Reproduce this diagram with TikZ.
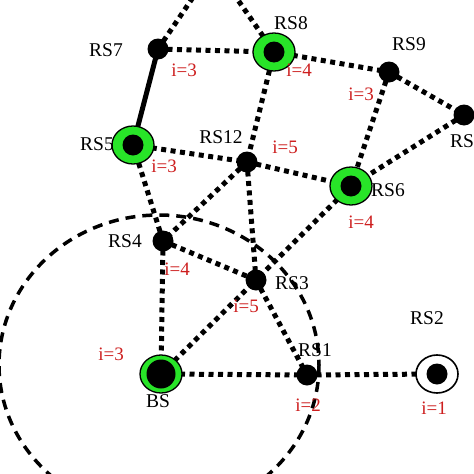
\documentclass[tikz,border=0pt]{standalone}
\usepackage{fontspec}
\setmainfont{Liberation Serif}
\usetikzlibrary{shapes.geometric}
\pgfdeclarelayer{bg}
\pgfsetlayers{bg,main}
\definecolor{ringgreen}{RGB}{40,228,40}
\definecolor{lblred}{RGB}{205,30,30}
\tikzset{
  relay/.style={circle,fill=black,inner sep=0pt,minimum size=21pt},
  bigrelay/.style={circle,fill=black,inner sep=0pt,minimum size=29pt},
  ring/.style={ellipse,fill=ringgreen,draw=black,line width=1.3pt,minimum width=42pt,minimum height=38pt,inner sep=0pt},
  wring/.style={ellipse,fill=white,draw=black,line width=1.6pt,minimum width=42pt,minimum height=38pt,inner sep=0pt},
  link/.style={line width=5pt,dash pattern=on 5pt off 4.5pt},
  solidlink/.style={line width=5pt},
  rsname/.style={font=\fontsize{19.5}{20}\selectfont,inner sep=0pt},
  hop/.style={font=\fontsize{19}{20}\selectfont,text=lblred,inner sep=0pt},
  coverage/.style={line width=3.5pt,dash pattern=on 10pt off 7pt},
}
\begin{document}
\begin{tikzpicture}[x=1pt,y=-1pt]
\useasboundingbox (0,0) rectangle (474,474);
\clip (0,0) rectangle (474,474);

% station nodes
\node[relay] (rs7) at (158,49) {};
\node[ring] (rs8r) at (274,52) {};
\node[relay] (rs8) at (274,52) {};
\node[relay] (rs9) at (389,72) {};
\node[relay] (rs10) at (464,115) {};
\node[ring] (rs5r) at (133,145) {};
\node[relay] (rs5) at (133,145) {};
\node[relay] (rs12) at (247,162) {};
\node[ring] (rs6r) at (351,186) {};
\node[relay] (rs6) at (351,186) {};
\node[relay] (rs4) at (163,241) {};
\node[relay] (rs3) at (256,280) {};
\node[ring] (bsr) at (161,374) {};
\node[bigrelay] (bs) at (161,374) {};
\node[relay] (rs1) at (307,375) {};
\node[wring] (rs2r) at (437,374) {};
\node[relay] (rs2) at (437,374) {};

\coordinate (up7) at (198,-10);
\coordinate (up8) at (231,-10);

\begin{pgfonlayer}{bg}
  \draw[coverage] (159,365) ellipse [x radius=160, y radius=150];
  \draw[link] (rs7.center) -- (up7);
  \draw[link] (rs8.center) -- (up8);
  \draw[link] (rs7.center) -- (rs8.center);
  \draw[link] (rs8.center) -- (rs9.center);
  \draw[link] (rs9.center) -- (rs10.center);
  \draw[link] (rs8.center) -- (rs12.center);
  \draw[link] (rs9.center) -- (rs6.center);
  \draw[link] (rs10.center) -- (rs6.center);
  \draw[link] (rs5.center) -- (rs12.center);
  \draw[link] (rs12.center) -- (rs6.center);
  \draw[link] (rs5.center) -- (rs4.center);
  \draw[link] (rs12.center) -- (rs4.center);
  \draw[link] (rs12.center) -- (rs3.center);
  \draw[link] (rs6.center) -- (rs3.center);
  \draw[link] (rs4.center) -- (rs3.center);
  \draw[link] (rs4.center) -- (bs.center);
  \draw[link] (bs.center) -- (rs3.center);
  \draw[link] (rs3.center) -- (rs1.center);
  \draw[link] (bs.center) -- (rs1.center);
  \draw[link] (rs1.center) -- (rs2.center);
  \draw[solidlink] (rs7.center) -- (rs5.center);
\end{pgfonlayer}

% names
\node[rsname] (lrs7) at (106,50) {RS7};
\node[rsname] (lrs8) at (291,23) {RS8};
\node[rsname] (lrs9) at (409,44) {RS9};
\node[rsname,anchor=west] (lrs10) at (450,141) {RS10};
\node[rsname] (lrs12) at (221,137) {RS12};
\node[rsname] (lrs5) at (97,144) {RS5};
\node[rsname] (lrs6) at (388,190) {RS6};
\node[rsname] (lrs4) at (125,241) {RS4};
\node[rsname] (lrs3) at (292,283) {RS3};
\node[rsname] (lrs2) at (427,318) {RS2};
\node[rsname] (lrs1) at (315,350) {RS1};
\node[rsname] (lbs) at (158,401) {BS};

% hop counts
\node[hop] (hrs7) at (184,70) {i=3};
\node[hop] (hrs8) at (299,70) {i=4};
\node[hop] (hrs9) at (361,94) {i=3};
\node[hop] (hrs12) at (285,147) {i=5};
\node[hop] (hrs5) at (164,166) {i=3};
\node[hop] (hrs6) at (361,222) {i=4};
\node[hop] (hrs4) at (177,269) {i=4};
\node[hop] (hrs3) at (246,306) {i=5};
\node[hop] (hbs) at (111,354) {i=3};
\node[hop] (hrs1) at (308,405) {i=2};
\node[hop] (hrs2) at (434,408) {i=1};
\end{tikzpicture}
\end{document}
